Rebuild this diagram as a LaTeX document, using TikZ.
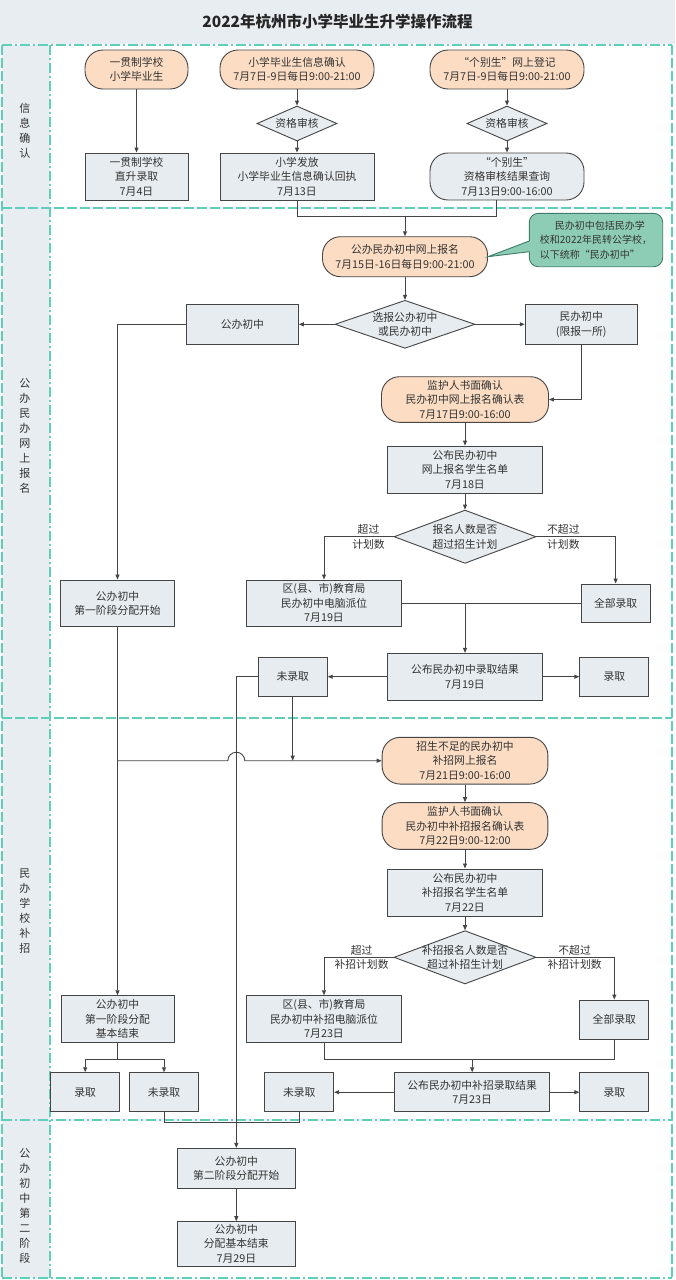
\documentclass[tikz,border=0pt]{standalone}
\usepackage{fontspec}
\setmainfont{Noto Sans CJK SC}
\usetikzlibrary{arrows.meta,shapes.geometric,calc}
\definecolor{lineC}{HTML}{454545}
\definecolor{grayF}{HTML}{E6ECF0}
\definecolor{orangeF}{HTML}{FCDDC4}
\definecolor{tealB}{HTML}{5FCFBA}
\definecolor{noteF}{HTML}{8ECDB5}
\definecolor{noteD}{HTML}{3F7C69}
\definecolor{txtC}{HTML}{333333}
\definecolor{bandF}{HTML}{E8EDF1}
\begin{document}
\begin{tikzpicture}[x=1pt,y=-1pt,
  every node/.style={text=txtC},
  wh/.style 2 args={minimum width=#1pt, minimum height=#2pt},
  txt/.style={font=\fontsize{10.8}{14.5}\selectfont, align=center},
  box/.style={txt, draw=lineC, line width=0.9pt, fill=grayF, inner sep=1pt},
  term/.style={box, fill=orangeF, rounded corners=18pt},
  termg/.style={box, rounded corners=18pt},
  dia/.style={diamond, draw=lineC, line width=0.9pt, fill=grayF, inner sep=0pt},
  dlab/.style={txt, inner sep=0pt},
  elab/.style={txt, inner sep=0pt},
  line/.style={draw=lineC, line width=0.9pt},
  arr/.style={line, -{Triangle[length=5pt,width=4pt]}},
  lane/.style={draw=tealB, line width=1.2pt},
  dashA/.style={dash pattern=on 10pt off 3pt},
  dashB/.style={dash pattern=on 10pt off 3pt on 2pt off 3pt},
  lanelab/.style={font=\fontsize{11}{15}\selectfont, align=center},
  notebox/.style={font=\fontsize{10}{14.5}\selectfont, align=left, draw=noteD, line width=0.9pt, fill=noteF, rounded corners=9pt, inner sep=2pt, text=black!80}
]
\useasboundingbox (0,0) rectangle (675,1280);
\fill[white] (0,0) rectangle (675,1280);
\fill[bandF] (0,0) rectangle (675,44);
\node[font=\fontsize{15.5}{18}\selectfont\bfseries, text=black!85] (title) at (337.5,22) {2022年杭州市小学毕业生升学操作流程};
\fill[bandF] (2,45) rectangle (50,1278);
% lanes
\draw[lane,dashB] (2,45) -- (672,45);
\draw[lane,dashA] (2,208) -- (672,208);
\draw[lane,dashA] (2,718) -- (672,718);
\draw[lane,dashB] (2,1120) -- (672,1120);
\draw[lane,dashB] (2,1278) -- (672,1278);
\draw[lane,dashA] (2,45) -- (2,1278);
\draw[lane,dashA] (672,45) -- (672,1278);
\draw[lane,dashB] (50,45) -- (50,1278);
\node[lanelab] (L1) at (25,131) {信\\息\\确\\认};
\node[lanelab] (L2) at (25,435.5) {公\\办\\民\\办\\网\\上\\报\\名};
\node[lanelab] (L3) at (25,910.8) {民\\办\\学\\校\\补\\招};
\node[lanelab] (L4) at (25,1205.8) {公\\办\\初\\中\\第\\二\\阶\\段};
% lane 1
\node[term, wh={103}{39}] (a1) at (136.5,69.5) {一贯制学校\\小学毕业生};
\node[term, wh={154}{39}] (a2) at (297,69.5) {小学毕业生信息确认\\7月7日-9日每日9:00-21:00};
\node[term, wh={154}{39}] (a3) at (507,69.5) {“个别生”网上登记\\7月7日-9日每日9:00-21:00};
\node[dia, wh={80}{35}, label={[dlab]center:资格审核}] (d1) at (297,123.5) {};
\node[dia, wh={80}{35}, label={[dlab]center:资格审核}] (d2) at (507,123.5) {};
\node[box, wh={103}{47}] (b1) at (136.5,176.5) {一贯制学校\\直升录取\\7月4日};
\node[box, wh={154}{47}] (b2) at (297,176.5) {小学发放\\小学毕业生信息确认回执\\7月13日};
\node[termg, wh={154}{47}] (b3) at (507,176.5) {“个别生”\\资格审核结果查询\\7月13日9:00-16:00};
\draw[arr] (a1) -- (b1);
\draw[arr] (a2) -- (d1);
\draw[arr] (d1) -- (b2);
\draw[arr] (a3) -- (d2);
\draw[arr] (d2) -- (b3);
% lane 2
\node[term, wh={165}{40}] (c1) at (405,256.7) {公办民办初中网上报名\\7月15日-16日每日9:00-21:00};
\node[notebox, wh={133.4}{53.4}] (note) at (596,240) {\hspace{1.5em}民办初中包括民办学\\校和2022年民转公学校，\\以下统称“民办初中”};
\fill[noteF] ($(note.west)+(0,1)$) -- (c1.east) -- ($(note.west)+(0,11.7)$) -- ($(note.west)+(3,11.7)$) -- ($(note.west)+(3,1)$) -- cycle;
\draw[noteD, line width=0.9pt] ($(note.west)+(0.4,1)$) -- (c1.east) -- ($(note.west)+(0.4,11.7)$);
\coordinate (j1) at ($(b2.south)+(0,16)$);
\draw[line] (b2.south) -- (j1) -- ($(b3.south)+(-11,16)$) -- ($(b3.south)+(-11,0)$);
\draw[arr] (c1.north |- j1) -- (c1.north);
\node[dia, wh={140}{48}, label={[dlab]center:选报公办初中\\或民办初中}] (d3) at (405,324.3) {};
\draw[arr] (c1) -- (d3);
\node[box, wh={112}{40}] (c2) at (242.4,324.3) {公办初中};
\node[box, wh={112}{40}] (c3) at (581.2,324.3) {民办初中\\(限报一所)};
\draw[arr] (d3.west) -- (c2.east);
\draw[arr] (d3.east) -- (c3.west);
\node[term, wh={167}{45.6}] (c4) at (465,399.5) {监护人书面确认\\民办初中网上报名确认表\\7月17日9:00-16:00};
\draw[arr] (c3.south) |- (c4.east);
\node[box, wh={155}{47.3}] (c5) at (465,469.7) {公布民办初中\\网上报名学生名单\\7月18日};
\draw[arr] (c4) -- (c5);
\node[dia, wh={142}{53.3}, label={[dlab]center:报名人数是否\\超过招生计划}] (d4) at (465,536.7) {};
\draw[arr] (c5) -- (d4);
\node[box, wh={113.7}{46.7}] (e1) at (117.5,603.3) {公办初中\\第一阶段分配开始};
\node[box, wh={155.4}{46.7}] (c6) at (324,603.3) {区(县、市)教育局\\民办初中电脑派位\\7月19日};
\node[box, wh={69}{38.7}] (c7) at (615.6,603.3) {全部录取};
\draw[arr] (d4.west) -| node[elab, pos=0.18] {超过\\计划数} (c6.north);
\draw[arr] (d4.east) -| node[elab, pos=0.17] {不超过\\计划数} (c7.north);
\draw[arr] (c2.west) -| (e1.north);
\node[box, wh={155}{46.7}] (c8) at (465,676.7) {公布民办初中录取结果\\7月19日};
\node[box, wh={69}{39.3}] (c9) at (292.7,676.7) {未录取};
\node[box, wh={69}{39.3}] (c10) at (614.3,676.7) {录取};
\draw[line] (c6.east) -- (c7.west);
\draw[arr] (c8.north |- c6.east) -- (c8.north);
\draw[arr] (c8.west) -- (c9.east);
\draw[arr] (c8.east) -- (c10.west);
% lane 3
\node[term, wh={165.8}{46.7}] (s1) at (465,760.7) {招生不足的民办初中\\补招网上报名\\7月21日9:00-16:00};
\node[term, wh={165.8}{46.7}] (s2) at (465,826) {监护人书面确认\\民办初中补招报名确认表\\7月22日9:00-12:00};
\node[box, wh={155}{47.7}] (s3) at (465,892.8) {公布民办初中\\补招报名学生名单\\7月22日};
\node[dia, wh={142}{53.3}, label={[dlab]center:补招报名人数是否\\超过补招生计划}] (d5) at (465,957.3) {};
\draw[arr] (s1) -- (s2);
\draw[arr] (s2) -- (s3);
\draw[arr] (s3) -- (d5);
\node[box, wh={155.4}{47}] (s4) at (324,1019.2) {区(县、市)教育局\\民办初中补招电脑派位\\7月23日};
\node[box, wh={69}{39}] (s5) at (614.3,1019.5) {全部录取};
\draw[arr] (d5.west) -| node[elab, pos=0.23] {超过\\补招计划数} (s4.north);
\draw[arr] (d5.east) -| node[elab, pos=0.245] {不超过\\补招计划数} (s5.north);
\node[box, wh={113}{47}] (e2) at (117.5,1019.2) {公办初中\\第一阶段分配\\基本结束};
\node[box, wh={155}{39}] (s6) at (472.2,1092.2) {公布民办初中补招录取结果\\7月23日};
\node[box, wh={69}{39}] (s7) at (299.2,1092.2) {未录取};
\node[box, wh={69}{39}] (s8) at (614.3,1092.2) {录取};
\node[box, wh={69}{39}] (e3) at (85.2,1092.2) {录取};
\node[box, wh={69}{39}] (e4) at (164,1092.2) {未录取};
\coordinate (j4) at ($(s4.south)+(0,16.6)$);
\draw[line] (s4.south) -- (j4) -- (j4 -| s5.south) -- (s5.south);
\draw[arr] (s6.north |- j4) -- (s6.north);
\draw[arr] (s6.west) -- (s7.east);
\draw[arr] (s6.east) -- (s8.west);
\draw[arr] (e1) -- (e2);
\coordinate (j3) at ($(e2.south)+(0,16.6)$);
\draw[line] (e2.south) -- (j3);
\draw[arr] (j3) -| (e3.north);
\draw[arr] (j3) -| (e4.north);
% lane 4
\node[box, wh={118}{40}] (f1) at (236.3,1168.3) {公办初中\\第二阶段分配开始};
\node[box, wh={118}{44.3}] (f2) at (236.3,1243.8) {公办初中\\分配基本结束\\7月29日};
\draw[arr] (f1) -- (f2);
\coordinate (j5) at ($(s7.south)+(0,10.5)$);
\draw[line] (e4.south) |- (j5) -- (s7.south);
% long connectors
\draw[arr] (c9.west) -| (f1.north);
\coordinate (j2) at (e1.south |- s1.west);
\draw[arr] (j2) -- ($(f1.north |- s1.west)+(-8.5,0)$) arc[start angle=180, end angle=360, radius=8.5] -- (s1.west);
\draw[arr] (c9.south) -- (c9.south |- s1.west);
\end{tikzpicture}
\end{document}
